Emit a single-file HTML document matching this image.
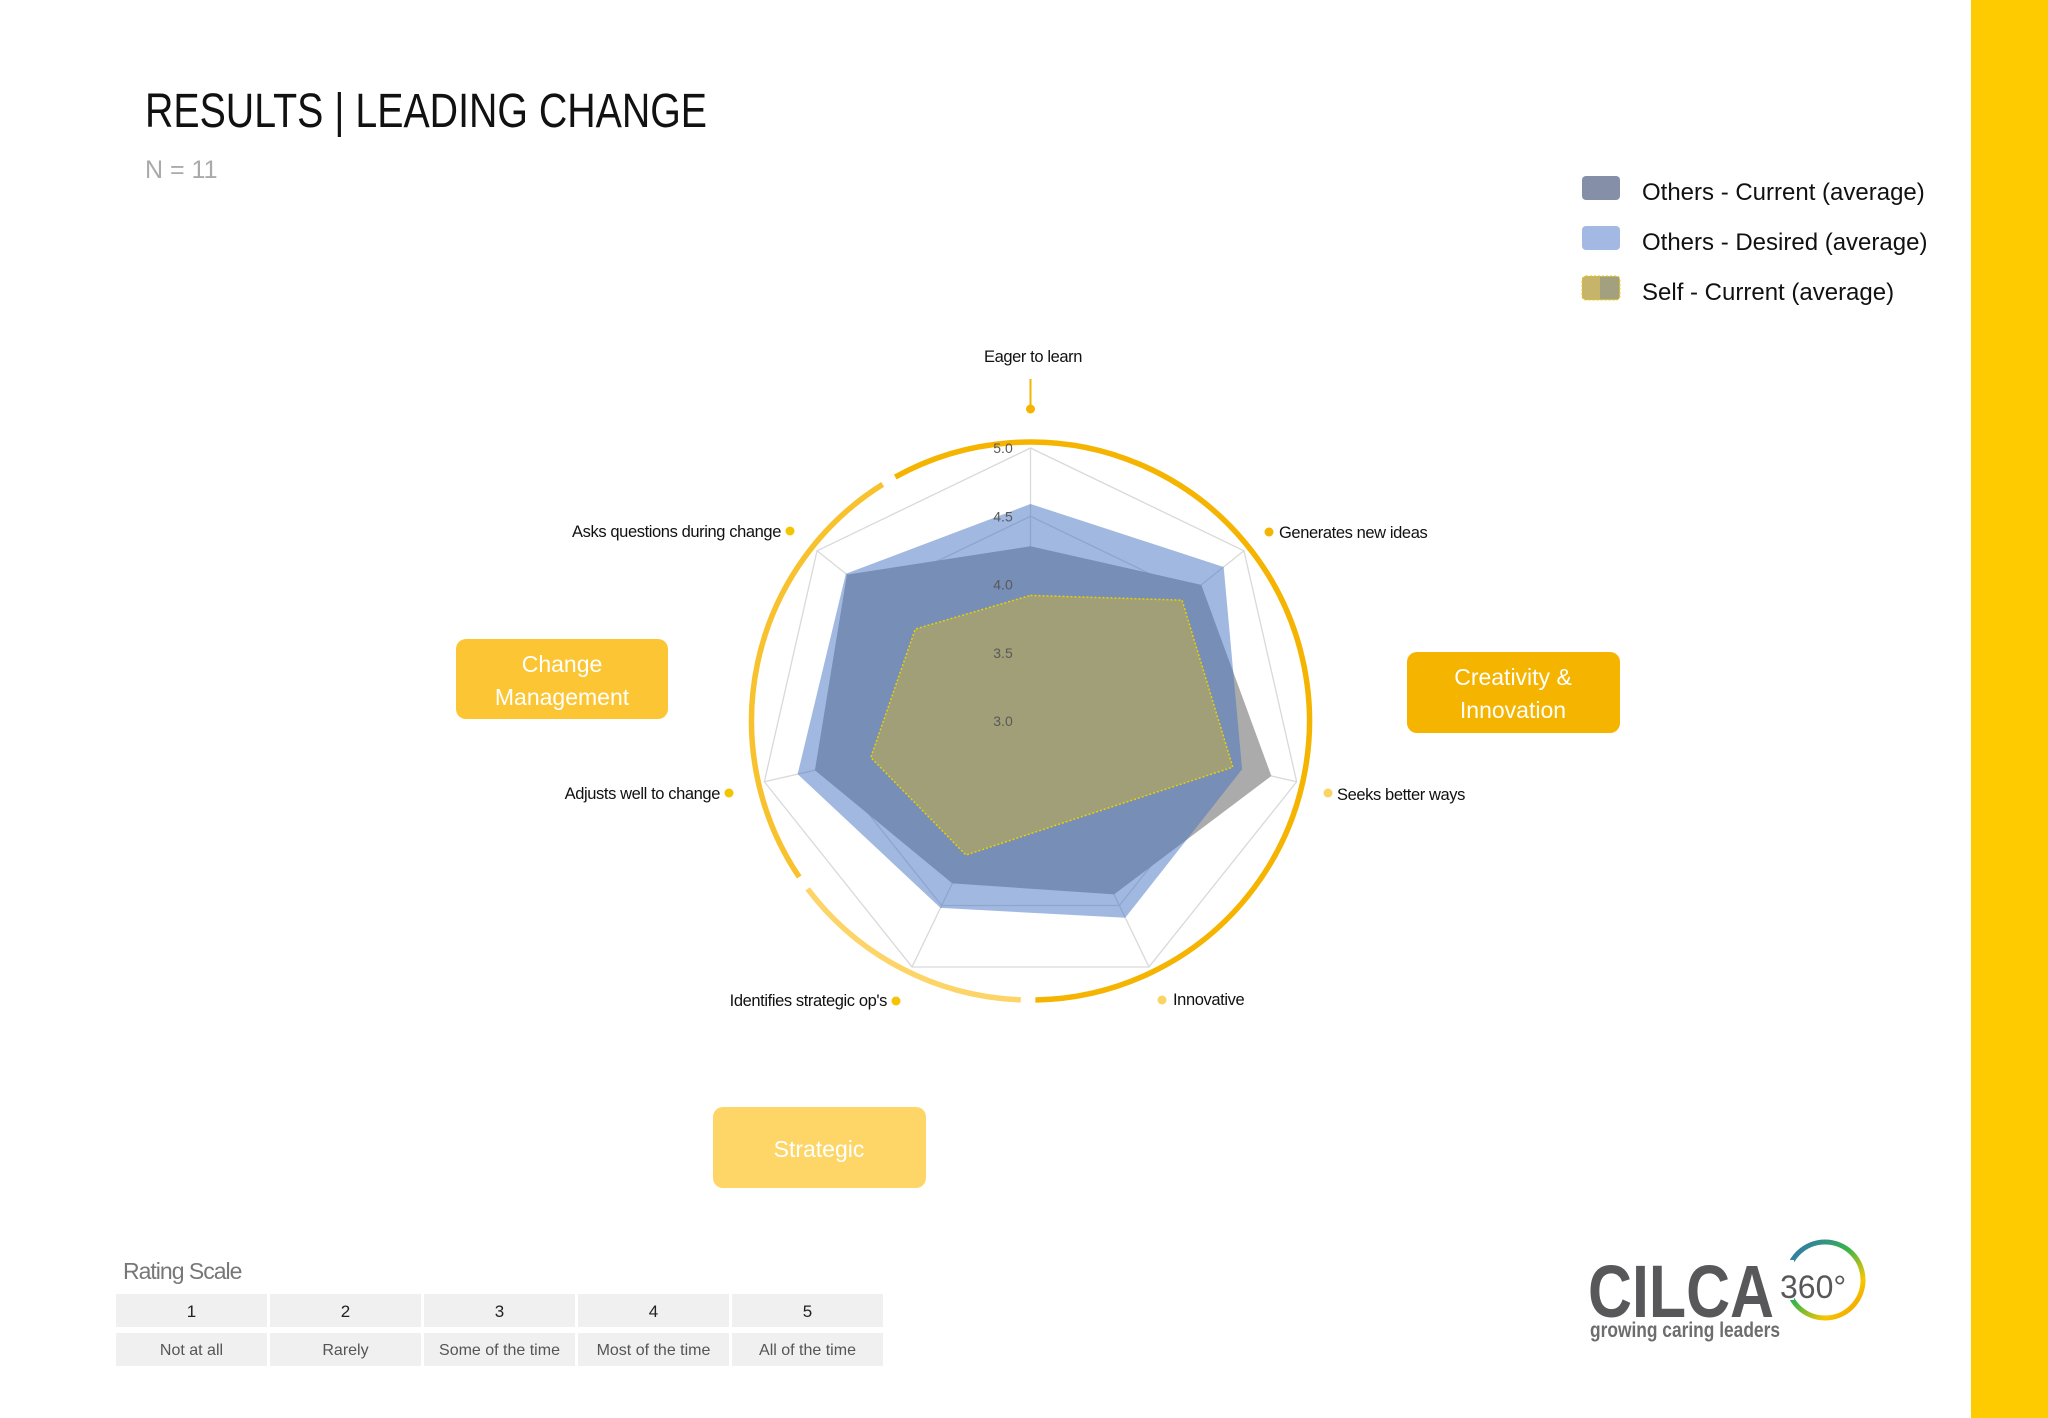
<!DOCTYPE html>
<html><head><meta charset="utf-8"><style>
html,body{margin:0;padding:0;background:#fff}
svg{display:block;font-family:"Liberation Sans",sans-serif}
</style></head><body>
<svg id="chart" width="2048" height="1418" viewBox="0 0 2048 1418">
<defs>
<linearGradient id="ringGrad" x1="0" y1="0" x2="1" y2="1">
<stop offset="0" stop-color="#2e6bc4"/><stop offset="0.45" stop-color="#39b54a"/><stop offset="0.75" stop-color="#f7c600"/><stop offset="1" stop-color="#f39200"/>
</linearGradient>
</defs>
<rect x="0" y="0" width="2048" height="1418" fill="#ffffff"/>
<rect x="1971" y="0" width="77" height="1418" fill="#fdcb00"/>
<text x="145" y="127" font-size="48" fill="#111" textLength="562" lengthAdjust="spacingAndGlyphs">RESULTS  |  LEADING CHANGE</text>
<text x="145" y="178" font-size="25" fill="#aaaaaa">N = 11</text>

<g>
<g>
<rect x="1582" y="176" width="38" height="24" rx="4" fill="#8590a8"/>
<text x="1642" y="200" font-size="24" fill="#111">Others - Current (average)</text></g>
<g>
<rect x="1582" y="226" width="38" height="24" rx="4" fill="#a3b8e2"/>
<text x="1642" y="250" font-size="24" fill="#111">Others - Desired (average)</text></g>
<g>
<rect x="1582" y="276" width="38" height="24" rx="4" fill="#c6b46a" stroke="#f0c800" stroke-dasharray="2 2"/>
<rect x="1600" y="277" width="19" height="22" fill="#a3a080"/>
<text x="1642" y="300" font-size="24" fill="#111">Self -  Current (average)</text></g>
</g>

<g id="radar"></g>

<g>
<rect x="456" y="639" width="212" height="80" rx="10" fill="#fcc533"/>
<text x="562" y="672" font-size="23" fill="#fff" text-anchor="middle">Change</text>
<text x="562" y="705" font-size="23" fill="#fff" text-anchor="middle">Management</text></g>
<g>
<rect x="1407" y="652" width="213" height="81" rx="10" fill="#f5b400"/>
<text x="1513" y="685" font-size="23" fill="#fff" text-anchor="middle">Creativity  &amp;</text>
<text x="1513" y="718" font-size="23" fill="#fff" text-anchor="middle">Innovation</text></g>
<g>
<rect x="713" y="1107" width="213" height="81" rx="10" fill="#fdd667"/>
<text x="819" y="1157" font-size="23" fill="#fff" text-anchor="middle">Strategic</text></g>

<g>
<text x="123" y="1279" font-size="23" fill="#777" letter-spacing="-1">Rating Scale</text>
<g id="scale"></g>
</g>

<g>
<text x="1588" y="1317" font-size="74" font-weight="bold" fill="#58585a" textLength="186" lengthAdjust="spacingAndGlyphs">CILCA</text>
<circle cx="1825" cy="1280" r="38" fill="none" stroke="url(#ringGrad)" stroke-width="5"/>
<rect x="1772" y="1260" width="22" height="40" fill="#fff"/>
<text x="1780" y="1298" font-size="32" fill="#58585a">360°</text>
<text x="1590" y="1337" font-size="21" font-weight="bold" fill="#6d6d6f" textLength="190" lengthAdjust="spacingAndGlyphs">growing caring leaders</text>
</g>
</svg>
<script>
const categories = ["Eager to learn","Generates new ideas","Seeks better ways","Innovative","Identifies strategic op's","Adjusts well to change","Asks questions during change"];
const othersCurrent = [4.28,4.6,4.81,4.41,4.32,4.62,4.72];
const othersDesired = [4.59,4.81,4.59,4.6,4.52,4.75,4.73];
const selfCurrent = [3.92,4.42,4.52,3.79,4.09,4.2,4.08];
const tickValues = [3.0,3.5,4.0,4.5,5.0];
const tickLabels = ["3.0","3.5","4.0","4.5","5.0"];
const scaleNumbers = ["1","2","3","4","5"];
const scaleLabels = ["Not at all","Rarely","Some of the time","Most of the time","All of the time"];

const NS = "http://www.w3.org/2000/svg";
const cx = 1030.5, cy = 721, R = 273, vMin = 3.0, vMax = 5.0;
const g = document.getElementById('radar');
function rScale(v){ return R * (v - vMin) / (vMax - vMin); }
function ang(i){ return i * 2 * Math.PI / categories.length; }
function pt(i, v){ const r = rScale(v), a = ang(i); return [cx + r * Math.sin(a), cy - r * Math.cos(a)]; }
function mk(tag, attrs, parent){ const e = document.createElementNS(NS, tag); for (const k in attrs) e.setAttribute(k, attrs[k]); (parent || g).appendChild(e); return e; }

tickValues.forEach((t, k) => {
  if (t <= vMin) return;
  const p = mk('polygon', {points: categories.map((c, i) => pt(i, t).join(',')).join(' '), fill: 'none', stroke: '#d9d9d9', 'stroke-width': 1.3});
  
  
});
categories.forEach((c, i) => {
  const [x, y] = pt(i, vMax);
  const l = mk('line', {x1: cx, y1: cy, x2: x, y2: y, stroke: '#d9d9d9', 'stroke-width': 1.3});
  
  
});

function arc(a0, a1, color, name){
  const rr = 279, p0 = [cx + rr*Math.sin(a0*Math.PI/180), cy - rr*Math.cos(a0*Math.PI/180)], p1 = [cx + rr*Math.sin(a1*Math.PI/180), cy - rr*Math.cos(a1*Math.PI/180)];
  const large = (a1 - a0) > 180 ? 1 : 0;
  const e = mk('path', {d: `M${p0[0]},${p0[1]} A${rr},${rr} 0 ${large} 1 ${p1[0]},${p1[1]}`, fill: 'none', stroke: color, 'stroke-width': 5.5});
  
  
}
arc(-29, 179, '#f5b400', 'rim-arc-creativity');
arc(182, 233, '#fcd468', 'rim-arc-strategic');
arc(236, 328, '#f8c12e', 'rim-arc-change');

function series(vals, attrs, name){
  const p = mk('polygon', Object.assign({points: vals.map((v, i) => pt(i, v).join(',')).join(' ')}, attrs));
  
  
}
series(othersCurrent, {fill: '#ababab'}, 'series-others-current');
series(othersDesired, {fill: '#4472c4', 'fill-opacity': 0.5}, 'series-others-desired');
series(selfCurrent, {fill: '#c9b037', 'fill-opacity': 0.5, stroke: '#e8d000', 'stroke-width': 1.5, 'stroke-dasharray': '2 2'}, 'series-self-current');

tickValues.forEach((t, k) => {
  const y = cy - rScale(t) + 5;
  const e = mk('text', {x: 1003, y: y, 'font-size': 14, fill: '#595959', 'text-anchor': 'middle'});
  e.textContent = tickLabels[k];
  
  
});

const labelPos = [[1033,362,'middle','#f5b400'],[1279,538,'start','#f5b400'],[1337,800,'start','#fbd466'],[1173,1005,'start','#fbd466'],[887,1006,'end','#f5c400'],[720,799,'end','#f5c400'],[781,537,'end','#f5c400']];
const dotPos = [[1030.5,409],[1269,532],[1328,793],[1162,1000],[896,1001],[729,793],[790,531]];
categories.forEach((c, i) => {
  const lp = labelPos[i];
  const t = mk('text', {x: lp[0], y: lp[1], 'font-size': 16.5, fill: '#111', 'text-anchor': lp[2], 'letter-spacing': '-0.4'});
  t.textContent = c;
  
  
  const d = mk('circle', {cx: dotPos[i][0], cy: dotPos[i][1], r: 4.5, fill: lp[3]});
  
  
});
const lead = mk('line', {x1: 1030.5, y1: 379, x2: 1030.5, y2: 405, stroke: '#f5b400', 'stroke-width': 2});



const sg = document.getElementById('scale');
scaleNumbers.forEach((n, i) => {
  const x = 116 + i * 154;
  const r1 = mk('rect', {x: x, y: 1294, width: 151, height: 33, fill: '#f0f0f0'}, sg);
  
  
  const t1 = mk('text', {x: x + 75.5, y: 1317, 'font-size': 17, fill: '#222', 'text-anchor': 'middle'}, sg);
  t1.textContent = n;
  
  
  const r2 = mk('rect', {x: x, y: 1333, width: 151, height: 33, fill: '#f0f0f0'}, sg);
  
  
  const t2 = mk('text', {x: x + 75.5, y: 1355, 'font-size': 16, fill: '#555', 'text-anchor': 'middle'}, sg);
  t2.textContent = scaleLabels[i];
  
  
});
</script>
</body></html>
